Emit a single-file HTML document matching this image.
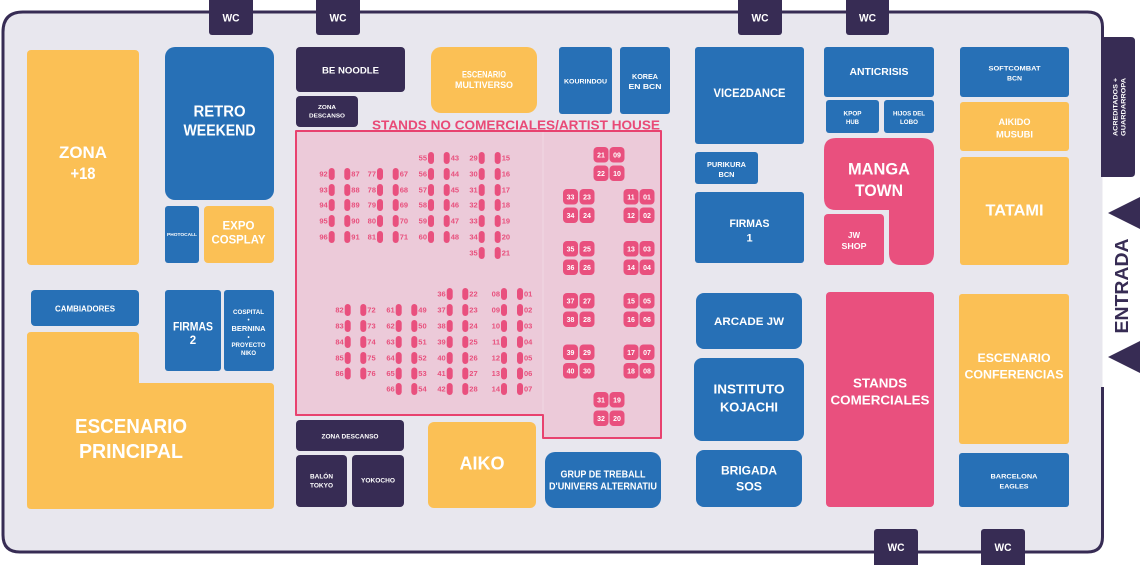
<!DOCTYPE html>
<html><head><meta charset="utf-8"><style>
html,body{margin:0;padding:0;background:#fff;}
svg{display:block;}
text{font-family:"Liberation Sans",sans-serif;font-weight:bold;fill:#fff;text-anchor:middle;}
.l{fill:#e8507d;font-size:7.5px;text-anchor:end;}
.r{fill:#e8507d;font-size:7.5px;text-anchor:start;}
.s{font-size:7px;}
</style></head><body>
<svg width="1140" height="565" viewBox="0 0 1140 565" xmlns="http://www.w3.org/2000/svg">
<!-- building -->
<path d="M23,12 H1087.5 Q1102.5,12 1102.5,27 V537 Q1102.5,552 1087.5,552 H20 Q3,552 3,535 V32 Q3,12 23,12 Z" fill="#e8e7ee"/>
<path d="M1102.5,177 V27 Q1102.5,12 1087.5,12 H23 Q3,12 3,32 V535 Q3,552 20,552 H1087.5 Q1102.5,552 1102.5,537 V387" fill="none" stroke="#372c54" stroke-width="3"/>

<!-- WC -->
<g fill="#372c54">
<rect x="209" y="-5" width="44" height="40" rx="3"/>
<rect x="316" y="-5" width="44" height="40" rx="3"/>
<rect x="738" y="-5" width="44" height="40" rx="3"/>
<rect x="846" y="-5" width="43" height="40" rx="3"/>
<rect x="874" y="529" width="44" height="42" rx="3"/>
<rect x="981" y="529" width="44" height="42" rx="3"/>
</g>
<g font-size="11">
<text x="231" y="21.5" lengthAdjust="spacingAndGlyphs" textLength="17">WC</text>
<text x="338" y="21.5" lengthAdjust="spacingAndGlyphs" textLength="17">WC</text>
<text x="760" y="21.5" lengthAdjust="spacingAndGlyphs" textLength="17">WC</text>
<text x="867.5" y="21.5" lengthAdjust="spacingAndGlyphs" textLength="17">WC</text>
<text x="896" y="551" lengthAdjust="spacingAndGlyphs" textLength="17">WC</text>
<text x="1003" y="551" lengthAdjust="spacingAndGlyphs" textLength="17">WC</text>
</g>

<!-- acreditados + entrada -->
<path d="M1103,37 H1131 Q1135,37 1135,41 V173 Q1135,177 1131,177 H1103 Z" fill="#372c54"/>
<g transform="translate(1119,107) rotate(-90)" font-size="6.5">
<text x="0" y="-1.5" lengthAdjust="spacingAndGlyphs" textLength="58">ACREDITADOS +</text>
<text x="0" y="6.5" lengthAdjust="spacingAndGlyphs" textLength="58">GUARDARROPA</text>
</g>
<polygon points="1108,213 1140,197 1140,229" fill="#372c54"/>
<polygon points="1108,357 1140,341 1140,373" fill="#372c54"/>
<text transform="translate(1128,286) rotate(-90)" x="0" y="0" font-size="18.5" lengthAdjust="spacingAndGlyphs" textLength="95" style="fill:#372c54">ENTRADA</text>

<!-- left column -->
<rect x="27" y="50" width="112" height="215" rx="4" fill="#fbc055"/>
<text x="83" y="158" font-size="17" lengthAdjust="spacingAndGlyphs" textLength="48">ZONA</text>
<text x="83" y="179" font-size="17" lengthAdjust="spacingAndGlyphs" textLength="25">+18</text>

<rect x="165" y="47" width="109" height="153" rx="10" fill="#2770b6"/>
<text x="219.5" y="116.5" font-size="15.5" lengthAdjust="spacingAndGlyphs" textLength="52">RETRO</text>
<text x="219.5" y="135.5" font-size="15.5" lengthAdjust="spacingAndGlyphs" textLength="72">WEEKEND</text>

<rect x="165" y="206" width="34" height="57" rx="3" fill="#2770b6"/>
<text x="182" y="236" font-size="4.5" lengthAdjust="spacingAndGlyphs" textLength="30">PHOTOCALL</text>

<rect x="204" y="206" width="70" height="57" rx="4" fill="#fbc055"/>
<text x="238.5" y="229.6" font-size="11.5" lengthAdjust="spacingAndGlyphs" textLength="32">EXPO</text>
<text x="238.5" y="243.6" font-size="11.5" lengthAdjust="spacingAndGlyphs" textLength="54">COSPLAY</text>

<rect x="31" y="290" width="108" height="36" rx="4" fill="#2770b6"/>
<text x="85" y="311.4" font-size="8" lengthAdjust="spacingAndGlyphs" textLength="60">CAMBIADORES</text>

<path d="M31,332 H135 Q139,332 139,336 V383 H270 Q274,383 274,387 V505 Q274,509 270,509 H31 Q27,509 27,505 V336 Q27,332 31,332 Z" fill="#fbc055"/>
<text x="131" y="432.9" font-size="20" lengthAdjust="spacingAndGlyphs" textLength="112">ESCENARIO</text>
<text x="131" y="457.9" font-size="20" lengthAdjust="spacingAndGlyphs" textLength="104">PRINCIPAL</text>

<rect x="165" y="290" width="56" height="81" rx="3" fill="#2770b6"/>
<text x="193" y="330.6" font-size="11.5" lengthAdjust="spacingAndGlyphs" textLength="40">FIRMAS</text>
<text x="193" y="344" font-size="11.5">2</text>

<rect x="224" y="290" width="50" height="81" rx="3" fill="#2770b6"/>
<g font-size="6">
<text x="248.5" y="313.8" lengthAdjust="spacingAndGlyphs" textLength="31">COSPITAL</text>
<text x="248.5" y="321.5">•</text>
<text x="248.5" y="331" font-size="7" lengthAdjust="spacingAndGlyphs" textLength="34">BERNINA</text>
<text x="248.5" y="338.8">•</text>
<text x="248.5" y="347" lengthAdjust="spacingAndGlyphs" textLength="34">PROYECTO</text>
<text x="248.5" y="355" lengthAdjust="spacingAndGlyphs" textLength="15">NIKO</text>
</g>

<!-- top middle -->
<rect x="296" y="47" width="109" height="45" rx="4" fill="#372c54"/>
<text x="350.5" y="73.4" font-size="9.5" lengthAdjust="spacingAndGlyphs" textLength="57">BE NOODLE</text>
<rect x="296" y="96" width="62" height="31" rx="4" fill="#372c54"/>
<text x="327" y="109" font-size="5.5" lengthAdjust="spacingAndGlyphs" textLength="18">ZONA</text>
<text x="327" y="117.5" font-size="5.5" lengthAdjust="spacingAndGlyphs" textLength="36">DESCANSO</text>

<rect x="431" y="47" width="106" height="66" rx="10" fill="#fbc055"/>
<text x="484" y="77.3" font-size="9" lengthAdjust="spacingAndGlyphs" textLength="44">ESCENARIO</text>
<text x="484" y="87.8" font-size="9" lengthAdjust="spacingAndGlyphs" textLength="58">MULTIVERSO</text>

<rect x="559" y="47" width="53" height="67" rx="3" fill="#2770b6"/>
<text x="585.5" y="83.3" font-size="6.5" lengthAdjust="spacingAndGlyphs" textLength="43">KOURINDOU</text>
<rect x="620" y="47" width="50" height="67" rx="3" fill="#2770b6"/>
<text x="645" y="79.2" font-size="7" lengthAdjust="spacingAndGlyphs" textLength="26">KOREA</text>
<text x="645" y="88.8" font-size="7" lengthAdjust="spacingAndGlyphs" textLength="33">EN BCN</text>

<!-- stands zone -->
<path d="M296,131 H661 V438 H543 V415 H296 Z" fill="#eccad9" stroke="#e8426f" stroke-width="2" stroke-linejoin="round"/>
<line x1="543" y1="132" x2="543" y2="414" stroke="#f1d8e4" stroke-width="1"/>
<text x="516" y="129.5" font-size="13" lengthAdjust="spacingAndGlyphs" textLength="288" style="fill:#e94a77">STANDS NO COMERCIALES/ARTIST HOUSE</text>

<g fill="#e9507e">
<!-- upper pair A -->
<rect x="328.7" y="168" width="6" height="12" rx="3"/><rect x="344.3" y="168" width="6" height="12" rx="3"/>
<rect x="328.7" y="184" width="6" height="12" rx="3"/><rect x="344.3" y="184" width="6" height="12" rx="3"/>
<rect x="328.7" y="199" width="6" height="12" rx="3"/><rect x="344.3" y="199" width="6" height="12" rx="3"/>
<rect x="328.7" y="215" width="6" height="12" rx="3"/><rect x="344.3" y="215" width="6" height="12" rx="3"/>
<rect x="328.7" y="231" width="6" height="12" rx="3"/><rect x="344.3" y="231" width="6" height="12" rx="3"/>
<!-- upper pair B -->
<rect x="377" y="168" width="6" height="12" rx="3"/><rect x="392.7" y="168" width="6" height="12" rx="3"/>
<rect x="377" y="184" width="6" height="12" rx="3"/><rect x="392.7" y="184" width="6" height="12" rx="3"/>
<rect x="377" y="199" width="6" height="12" rx="3"/><rect x="392.7" y="199" width="6" height="12" rx="3"/>
<rect x="377" y="215" width="6" height="12" rx="3"/><rect x="392.7" y="215" width="6" height="12" rx="3"/>
<rect x="377" y="231" width="6" height="12" rx="3"/><rect x="392.7" y="231" width="6" height="12" rx="3"/>
<!-- upper pair C -->
<rect x="428" y="152" width="6" height="12" rx="3"/><rect x="443.7" y="152" width="6" height="12" rx="3"/>
<rect x="428" y="168" width="6" height="12" rx="3"/><rect x="443.7" y="168" width="6" height="12" rx="3"/>
<rect x="428" y="184" width="6" height="12" rx="3"/><rect x="443.7" y="184" width="6" height="12" rx="3"/>
<rect x="428" y="199" width="6" height="12" rx="3"/><rect x="443.7" y="199" width="6" height="12" rx="3"/>
<rect x="428" y="215" width="6" height="12" rx="3"/><rect x="443.7" y="215" width="6" height="12" rx="3"/>
<rect x="428" y="231" width="6" height="12" rx="3"/><rect x="443.7" y="231" width="6" height="12" rx="3"/>
<!-- upper pair D -->
<rect x="478.7" y="152" width="6" height="12" rx="3"/><rect x="494.7" y="152" width="6" height="12" rx="3"/>
<rect x="478.7" y="168" width="6" height="12" rx="3"/><rect x="494.7" y="168" width="6" height="12" rx="3"/>
<rect x="478.7" y="184" width="6" height="12" rx="3"/><rect x="494.7" y="184" width="6" height="12" rx="3"/>
<rect x="478.7" y="199" width="6" height="12" rx="3"/><rect x="494.7" y="199" width="6" height="12" rx="3"/>
<rect x="478.7" y="215" width="6" height="12" rx="3"/><rect x="494.7" y="215" width="6" height="12" rx="3"/>
<rect x="478.7" y="231" width="6" height="12" rx="3"/><rect x="494.7" y="231" width="6" height="12" rx="3"/>
<rect x="478.7" y="247" width="6" height="12" rx="3"/><rect x="494.7" y="247" width="6" height="12" rx="3"/>
<!-- lower pair A -->
<rect x="344.7" y="304" width="6" height="12" rx="3"/><rect x="360.3" y="304" width="6" height="12" rx="3"/>
<rect x="344.7" y="320" width="6" height="12" rx="3"/><rect x="360.3" y="320" width="6" height="12" rx="3"/>
<rect x="344.7" y="336" width="6" height="12" rx="3"/><rect x="360.3" y="336" width="6" height="12" rx="3"/>
<rect x="344.7" y="352" width="6" height="12" rx="3"/><rect x="360.3" y="352" width="6" height="12" rx="3"/>
<rect x="344.7" y="367.5" width="6" height="12" rx="3"/><rect x="360.3" y="367.5" width="6" height="12" rx="3"/>
<!-- lower pair B -->
<rect x="395.7" y="304" width="6" height="12" rx="3"/><rect x="411.3" y="304" width="6" height="12" rx="3"/>
<rect x="395.7" y="320" width="6" height="12" rx="3"/><rect x="411.3" y="320" width="6" height="12" rx="3"/>
<rect x="395.7" y="336" width="6" height="12" rx="3"/><rect x="411.3" y="336" width="6" height="12" rx="3"/>
<rect x="395.7" y="352" width="6" height="12" rx="3"/><rect x="411.3" y="352" width="6" height="12" rx="3"/>
<rect x="395.7" y="367.5" width="6" height="12" rx="3"/><rect x="411.3" y="367.5" width="6" height="12" rx="3"/>
<rect x="395.7" y="383" width="6" height="12" rx="3"/><rect x="411.3" y="383" width="6" height="12" rx="3"/>
<!-- lower pair C -->
<rect x="446.7" y="288" width="6" height="12" rx="3"/><rect x="462.3" y="288" width="6" height="12" rx="3"/>
<rect x="446.7" y="304" width="6" height="12" rx="3"/><rect x="462.3" y="304" width="6" height="12" rx="3"/>
<rect x="446.7" y="320" width="6" height="12" rx="3"/><rect x="462.3" y="320" width="6" height="12" rx="3"/>
<rect x="446.7" y="336" width="6" height="12" rx="3"/><rect x="462.3" y="336" width="6" height="12" rx="3"/>
<rect x="446.7" y="352" width="6" height="12" rx="3"/><rect x="462.3" y="352" width="6" height="12" rx="3"/>
<rect x="446.7" y="367.5" width="6" height="12" rx="3"/><rect x="462.3" y="367.5" width="6" height="12" rx="3"/>
<rect x="446.7" y="383" width="6" height="12" rx="3"/><rect x="462.3" y="383" width="6" height="12" rx="3"/>
<!-- lower pair D -->
<rect x="501" y="288" width="6" height="12" rx="3"/><rect x="517" y="288" width="6" height="12" rx="3"/>
<rect x="501" y="304" width="6" height="12" rx="3"/><rect x="517" y="304" width="6" height="12" rx="3"/>
<rect x="501" y="320" width="6" height="12" rx="3"/><rect x="517" y="320" width="6" height="12" rx="3"/>
<rect x="501" y="336" width="6" height="12" rx="3"/><rect x="517" y="336" width="6" height="12" rx="3"/>
<rect x="501" y="352" width="6" height="12" rx="3"/><rect x="517" y="352" width="6" height="12" rx="3"/>
<rect x="501" y="367.5" width="6" height="12" rx="3"/><rect x="517" y="367.5" width="6" height="12" rx="3"/>
<rect x="501" y="383" width="6" height="12" rx="3"/><rect x="517" y="383" width="6" height="12" rx="3"/>
</g>

<!-- pill labels upper -->
<text class="l" x="327.7" y="176.5">92</text><text class="r" x="351.3" y="176.5">87</text>
<text class="l" x="327.7" y="192.5">93</text><text class="r" x="351.3" y="192.5">88</text>
<text class="l" x="327.7" y="207.5">94</text><text class="r" x="351.3" y="207.5">89</text>
<text class="l" x="327.7" y="223.5">95</text><text class="r" x="351.3" y="223.5">90</text>
<text class="l" x="327.7" y="239.5">96</text><text class="r" x="351.3" y="239.5">91</text>

<text class="l" x="376" y="176.5">77</text><text class="r" x="399.7" y="176.5">67</text>
<text class="l" x="376" y="192.5">78</text><text class="r" x="399.7" y="192.5">68</text>
<text class="l" x="376" y="207.5">79</text><text class="r" x="399.7" y="207.5">69</text>
<text class="l" x="376" y="223.5">80</text><text class="r" x="399.7" y="223.5">70</text>
<text class="l" x="376" y="239.5">81</text><text class="r" x="399.7" y="239.5">71</text>

<text class="l" x="427" y="160.5">55</text><text class="r" x="450.7" y="160.5">43</text>
<text class="l" x="427" y="176.5">56</text><text class="r" x="450.7" y="176.5">44</text>
<text class="l" x="427" y="192.5">57</text><text class="r" x="450.7" y="192.5">45</text>
<text class="l" x="427" y="207.5">58</text><text class="r" x="450.7" y="207.5">46</text>
<text class="l" x="427" y="223.5">59</text><text class="r" x="450.7" y="223.5">47</text>
<text class="l" x="427" y="239.5">60</text><text class="r" x="450.7" y="239.5">48</text>

<text class="l" x="477.7" y="160.5">29</text><text class="r" x="501.7" y="160.5">15</text>
<text class="l" x="477.7" y="176.5">30</text><text class="r" x="501.7" y="176.5">16</text>
<text class="l" x="477.7" y="192.5">31</text><text class="r" x="501.7" y="192.5">17</text>
<text class="l" x="477.7" y="207.5">32</text><text class="r" x="501.7" y="207.5">18</text>
<text class="l" x="477.7" y="223.5">33</text><text class="r" x="501.7" y="223.5">19</text>
<text class="l" x="477.7" y="239.5">34</text><text class="r" x="501.7" y="239.5">20</text>
<text class="l" x="477.7" y="255.5">35</text><text class="r" x="501.7" y="255.5">21</text>

<!-- pill labels lower -->
<text class="l" x="343.7" y="312.5">82</text><text class="r" x="367.3" y="312.5">72</text>
<text class="l" x="343.7" y="328.5">83</text><text class="r" x="367.3" y="328.5">73</text>
<text class="l" x="343.7" y="344.5">84</text><text class="r" x="367.3" y="344.5">74</text>
<text class="l" x="343.7" y="360.5">85</text><text class="r" x="367.3" y="360.5">75</text>
<text class="l" x="343.7" y="376">86</text><text class="r" x="367.3" y="376">76</text>

<text class="l" x="394.7" y="312.5">61</text><text class="r" x="418.3" y="312.5">49</text>
<text class="l" x="394.7" y="328.5">62</text><text class="r" x="418.3" y="328.5">50</text>
<text class="l" x="394.7" y="344.5">63</text><text class="r" x="418.3" y="344.5">51</text>
<text class="l" x="394.7" y="360.5">64</text><text class="r" x="418.3" y="360.5">52</text>
<text class="l" x="394.7" y="376">65</text><text class="r" x="418.3" y="376">53</text>
<text class="l" x="394.7" y="391.5">66</text><text class="r" x="418.3" y="391.5">54</text>

<text class="l" x="445.7" y="296.5">36</text><text class="r" x="469.3" y="296.5">22</text>
<text class="l" x="445.7" y="312.5">37</text><text class="r" x="469.3" y="312.5">23</text>
<text class="l" x="445.7" y="328.5">38</text><text class="r" x="469.3" y="328.5">24</text>
<text class="l" x="445.7" y="344.5">39</text><text class="r" x="469.3" y="344.5">25</text>
<text class="l" x="445.7" y="360.5">40</text><text class="r" x="469.3" y="360.5">26</text>
<text class="l" x="445.7" y="376">41</text><text class="r" x="469.3" y="376">27</text>
<text class="l" x="445.7" y="391.5">42</text><text class="r" x="469.3" y="391.5">28</text>

<text class="l" x="500" y="296.5">08</text><text class="r" x="524" y="296.5">01</text>
<text class="l" x="500" y="312.5">09</text><text class="r" x="524" y="312.5">02</text>
<text class="l" x="500" y="328.5">10</text><text class="r" x="524" y="328.5">03</text>
<text class="l" x="500" y="344.5">11</text><text class="r" x="524" y="344.5">04</text>
<text class="l" x="500" y="360.5">12</text><text class="r" x="524" y="360.5">05</text>
<text class="l" x="500" y="376">13</text><text class="r" x="524" y="376">06</text>
<text class="l" x="500" y="391.5">14</text><text class="r" x="524" y="391.5">07</text>

<!-- square stands -->
<g fill="#e9507e">
<rect x="593.5" y="147" width="15" height="15.5" rx="4"/><rect x="609.5" y="147" width="15" height="15.5" rx="4"/>
<rect x="593.5" y="165.5" width="15" height="15.5" rx="4"/><rect x="609.5" y="165.5" width="15" height="15.5" rx="4"/>

<rect x="563" y="189" width="15" height="15.5" rx="4"/><rect x="579.5" y="189" width="15" height="15.5" rx="4"/>
<rect x="563" y="207.5" width="15" height="15.5" rx="4"/><rect x="579.5" y="207.5" width="15" height="15.5" rx="4"/>
<rect x="623.5" y="189" width="15" height="15.5" rx="4"/><rect x="639.5" y="189" width="15" height="15.5" rx="4"/>
<rect x="623.5" y="207.5" width="15" height="15.5" rx="4"/><rect x="639.5" y="207.5" width="15" height="15.5" rx="4"/>

<rect x="563" y="241" width="15" height="15.5" rx="4"/><rect x="579.5" y="241" width="15" height="15.5" rx="4"/>
<rect x="563" y="259.5" width="15" height="15.5" rx="4"/><rect x="579.5" y="259.5" width="15" height="15.5" rx="4"/>
<rect x="623.5" y="241" width="15" height="15.5" rx="4"/><rect x="639.5" y="241" width="15" height="15.5" rx="4"/>
<rect x="623.5" y="259.5" width="15" height="15.5" rx="4"/><rect x="639.5" y="259.5" width="15" height="15.5" rx="4"/>

<rect x="563" y="293" width="15" height="15.5" rx="4"/><rect x="579.5" y="293" width="15" height="15.5" rx="4"/>
<rect x="563" y="311.5" width="15" height="15.5" rx="4"/><rect x="579.5" y="311.5" width="15" height="15.5" rx="4"/>
<rect x="623.5" y="293" width="15" height="15.5" rx="4"/><rect x="639.5" y="293" width="15" height="15.5" rx="4"/>
<rect x="623.5" y="311.5" width="15" height="15.5" rx="4"/><rect x="639.5" y="311.5" width="15" height="15.5" rx="4"/>

<rect x="563" y="344.5" width="15" height="15.5" rx="4"/><rect x="579.5" y="344.5" width="15" height="15.5" rx="4"/>
<rect x="563" y="363" width="15" height="15.5" rx="4"/><rect x="579.5" y="363" width="15" height="15.5" rx="4"/>
<rect x="623.5" y="344.5" width="15" height="15.5" rx="4"/><rect x="639.5" y="344.5" width="15" height="15.5" rx="4"/>
<rect x="623.5" y="363" width="15" height="15.5" rx="4"/><rect x="639.5" y="363" width="15" height="15.5" rx="4"/>

<rect x="593.5" y="392" width="15" height="15.5" rx="4"/><rect x="609.5" y="392" width="15" height="15.5" rx="4"/>
<rect x="593.5" y="410.5" width="15" height="15.5" rx="4"/><rect x="609.5" y="410.5" width="15" height="15.5" rx="4"/>
</g>
<g class="s" font-size="7">
<text x="601" y="157.3">21</text><text x="617" y="157.3">09</text>
<text x="601" y="175.8">22</text><text x="617" y="175.8">10</text>
<text x="570.5" y="199.3">33</text><text x="587" y="199.3">23</text><text x="631" y="199.3">11</text><text x="647" y="199.3">01</text>
<text x="570.5" y="217.8">34</text><text x="587" y="217.8">24</text><text x="631" y="217.8">12</text><text x="647" y="217.8">02</text>
<text x="570.5" y="251.3">35</text><text x="587" y="251.3">25</text><text x="631" y="251.3">13</text><text x="647" y="251.3">03</text>
<text x="570.5" y="269.8">36</text><text x="587" y="269.8">26</text><text x="631" y="269.8">14</text><text x="647" y="269.8">04</text>
<text x="570.5" y="303.3">37</text><text x="587" y="303.3">27</text><text x="631" y="303.3">15</text><text x="647" y="303.3">05</text>
<text x="570.5" y="321.8">38</text><text x="587" y="321.8">28</text><text x="631" y="321.8">16</text><text x="647" y="321.8">06</text>
<text x="570.5" y="354.8">39</text><text x="587" y="354.8">29</text><text x="631" y="354.8">17</text><text x="647" y="354.8">07</text>
<text x="570.5" y="373.3">40</text><text x="587" y="373.3">30</text><text x="631" y="373.3">18</text><text x="647" y="373.3">08</text>
<text x="601" y="402.3">31</text><text x="617" y="402.3">19</text>
<text x="601" y="420.8">32</text><text x="617" y="420.8">20</text>
</g>

<!-- bottom middle -->
<rect x="296" y="420" width="108" height="31" rx="4" fill="#372c54"/>
<text x="350" y="438.3" font-size="6.5" lengthAdjust="spacingAndGlyphs" textLength="57">ZONA DESCANSO</text>
<rect x="296" y="455" width="51" height="52" rx="4" fill="#372c54"/>
<text x="321.5" y="478.6" font-size="6.5" lengthAdjust="spacingAndGlyphs" textLength="23">BALÓN</text>
<text x="321.5" y="487.3" font-size="6.5" lengthAdjust="spacingAndGlyphs" textLength="23">TOKYO</text>
<rect x="352" y="455" width="52" height="52" rx="4" fill="#372c54"/>
<text x="378" y="482.3" font-size="6.5" lengthAdjust="spacingAndGlyphs" textLength="34">YOKOCHO</text>

<rect x="428" y="422" width="108" height="86" rx="6" fill="#fbc055"/>
<text x="482" y="469.5" font-size="18" lengthAdjust="spacingAndGlyphs" textLength="45">AIKO</text>

<rect x="545" y="452" width="116" height="56" rx="10" fill="#2770b6"/>
<text x="603" y="477.6" font-size="10" lengthAdjust="spacingAndGlyphs" textLength="85">GRUP DE TREBALL</text>
<text x="603" y="489.6" font-size="10" lengthAdjust="spacingAndGlyphs" textLength="108">D'UNIVERS ALTERNATIU</text>

<!-- right column 1 -->
<rect x="695" y="47" width="109" height="97" rx="3" fill="#2770b6"/>
<text x="749.5" y="96.8" font-size="12" lengthAdjust="spacingAndGlyphs" textLength="72">VICE2DANCE</text>
<rect x="695" y="152" width="63" height="32" rx="3" fill="#2770b6"/>
<text x="726.5" y="167.2" font-size="7" lengthAdjust="spacingAndGlyphs" textLength="39">PURIKURA</text>
<text x="726.5" y="177.2" font-size="7" lengthAdjust="spacingAndGlyphs" textLength="16">BCN</text>
<rect x="695" y="192" width="109" height="71" rx="3" fill="#2770b6"/>
<text x="749.5" y="227" font-size="11" lengthAdjust="spacingAndGlyphs" textLength="40">FIRMAS</text>
<text x="749.5" y="241.3" font-size="11">1</text>

<rect x="696" y="293" width="106" height="56" rx="8" fill="#2770b6"/>
<text x="749" y="325" font-size="11" lengthAdjust="spacingAndGlyphs" textLength="70">ARCADE JW</text>
<rect x="694" y="358" width="110" height="83" rx="8" fill="#2770b6"/>
<text x="749" y="393.4" font-size="13" lengthAdjust="spacingAndGlyphs" textLength="71">INSTITUTO</text>
<text x="749" y="411.4" font-size="13" lengthAdjust="spacingAndGlyphs" textLength="58">KOJACHI</text>
<rect x="696" y="450" width="106" height="57" rx="8" fill="#2770b6"/>
<text x="749" y="474.6" font-size="12" lengthAdjust="spacingAndGlyphs" textLength="56">BRIGADA</text>
<text x="749" y="490.6" font-size="12" lengthAdjust="spacingAndGlyphs" textLength="26">SOS</text>

<!-- column 2 -->
<rect x="824" y="47" width="110" height="50" rx="3" fill="#2770b6"/>
<text x="879" y="74.8" font-size="10.5" lengthAdjust="spacingAndGlyphs" textLength="59">ANTICRISIS</text>
<rect x="826" y="100" width="53" height="33" rx="3" fill="#2770b6"/>
<text x="852.5" y="115.5" font-size="6" lengthAdjust="spacingAndGlyphs" textLength="18">KPOP</text>
<text x="852.5" y="123.9" font-size="6" lengthAdjust="spacingAndGlyphs" textLength="13">HUB</text>
<rect x="884" y="100" width="50" height="33" rx="3" fill="#2770b6"/>
<text x="909" y="115.5" font-size="6" lengthAdjust="spacingAndGlyphs" textLength="32">HIJOS DEL</text>
<text x="909" y="123.9" font-size="6" lengthAdjust="spacingAndGlyphs" textLength="18">LOBO</text>

<path d="M836,138 H922 Q934,138 934,150 V253 Q934,265 922,265 H901 Q889,265 889,253 V210 H836 Q824,210 824,198 V150 Q824,138 836,138 Z" fill="#e9507e"/>
<text x="879" y="174.4" font-size="17" lengthAdjust="spacingAndGlyphs" textLength="62">MANGA</text>
<text x="879" y="195.8" font-size="17" lengthAdjust="spacingAndGlyphs" textLength="48">TOWN</text>
<rect x="824" y="214" width="60" height="51" rx="4" fill="#e9507e"/>
<text x="854" y="237.9" font-size="8" lengthAdjust="spacingAndGlyphs" textLength="12">JW</text>
<text x="854" y="248.9" font-size="8" lengthAdjust="spacingAndGlyphs" textLength="25">SHOP</text>

<rect x="826" y="292" width="108" height="215" rx="4" fill="#e9507e"/>
<text x="880" y="387.4" font-size="13" lengthAdjust="spacingAndGlyphs" textLength="54">STANDS</text>
<text x="880" y="404.7" font-size="13" lengthAdjust="spacingAndGlyphs" textLength="99">COMERCIALES</text>

<!-- column 3 -->
<rect x="960" y="47" width="109" height="50" rx="3" fill="#2770b6"/>
<text x="1014.5" y="70.6" font-size="6.5" lengthAdjust="spacingAndGlyphs" textLength="52">SOFTCOMBAT</text>
<text x="1014.5" y="80.3" font-size="6.5" lengthAdjust="spacingAndGlyphs" textLength="15">BCN</text>
<rect x="960" y="102" width="109" height="49" rx="3" fill="#fbc055"/>
<text x="1014.5" y="125" font-size="9" lengthAdjust="spacingAndGlyphs" textLength="32">AIKIDO</text>
<text x="1014.5" y="137.3" font-size="9" lengthAdjust="spacingAndGlyphs" textLength="37">MUSUBI</text>
<rect x="960" y="157" width="109" height="108" rx="3" fill="#fbc055"/>
<text x="1014.5" y="215.6" font-size="15.5" lengthAdjust="spacingAndGlyphs" textLength="58">TATAMI</text>

<rect x="959" y="294" width="110" height="150" rx="3" fill="#fbc055"/>
<text x="1014" y="362" font-size="12" lengthAdjust="spacingAndGlyphs" textLength="73">ESCENARIO</text>
<text x="1014" y="378.3" font-size="12" lengthAdjust="spacingAndGlyphs" textLength="99">CONFERENCIAS</text>
<rect x="959" y="453" width="110" height="54" rx="3" fill="#2770b6"/>
<text x="1014" y="478.6" font-size="6.5" lengthAdjust="spacingAndGlyphs" textLength="47">BARCELONA</text>
<text x="1014" y="488.3" font-size="6.5" lengthAdjust="spacingAndGlyphs" textLength="29">EAGLES</text>
</svg>
</body></html>
